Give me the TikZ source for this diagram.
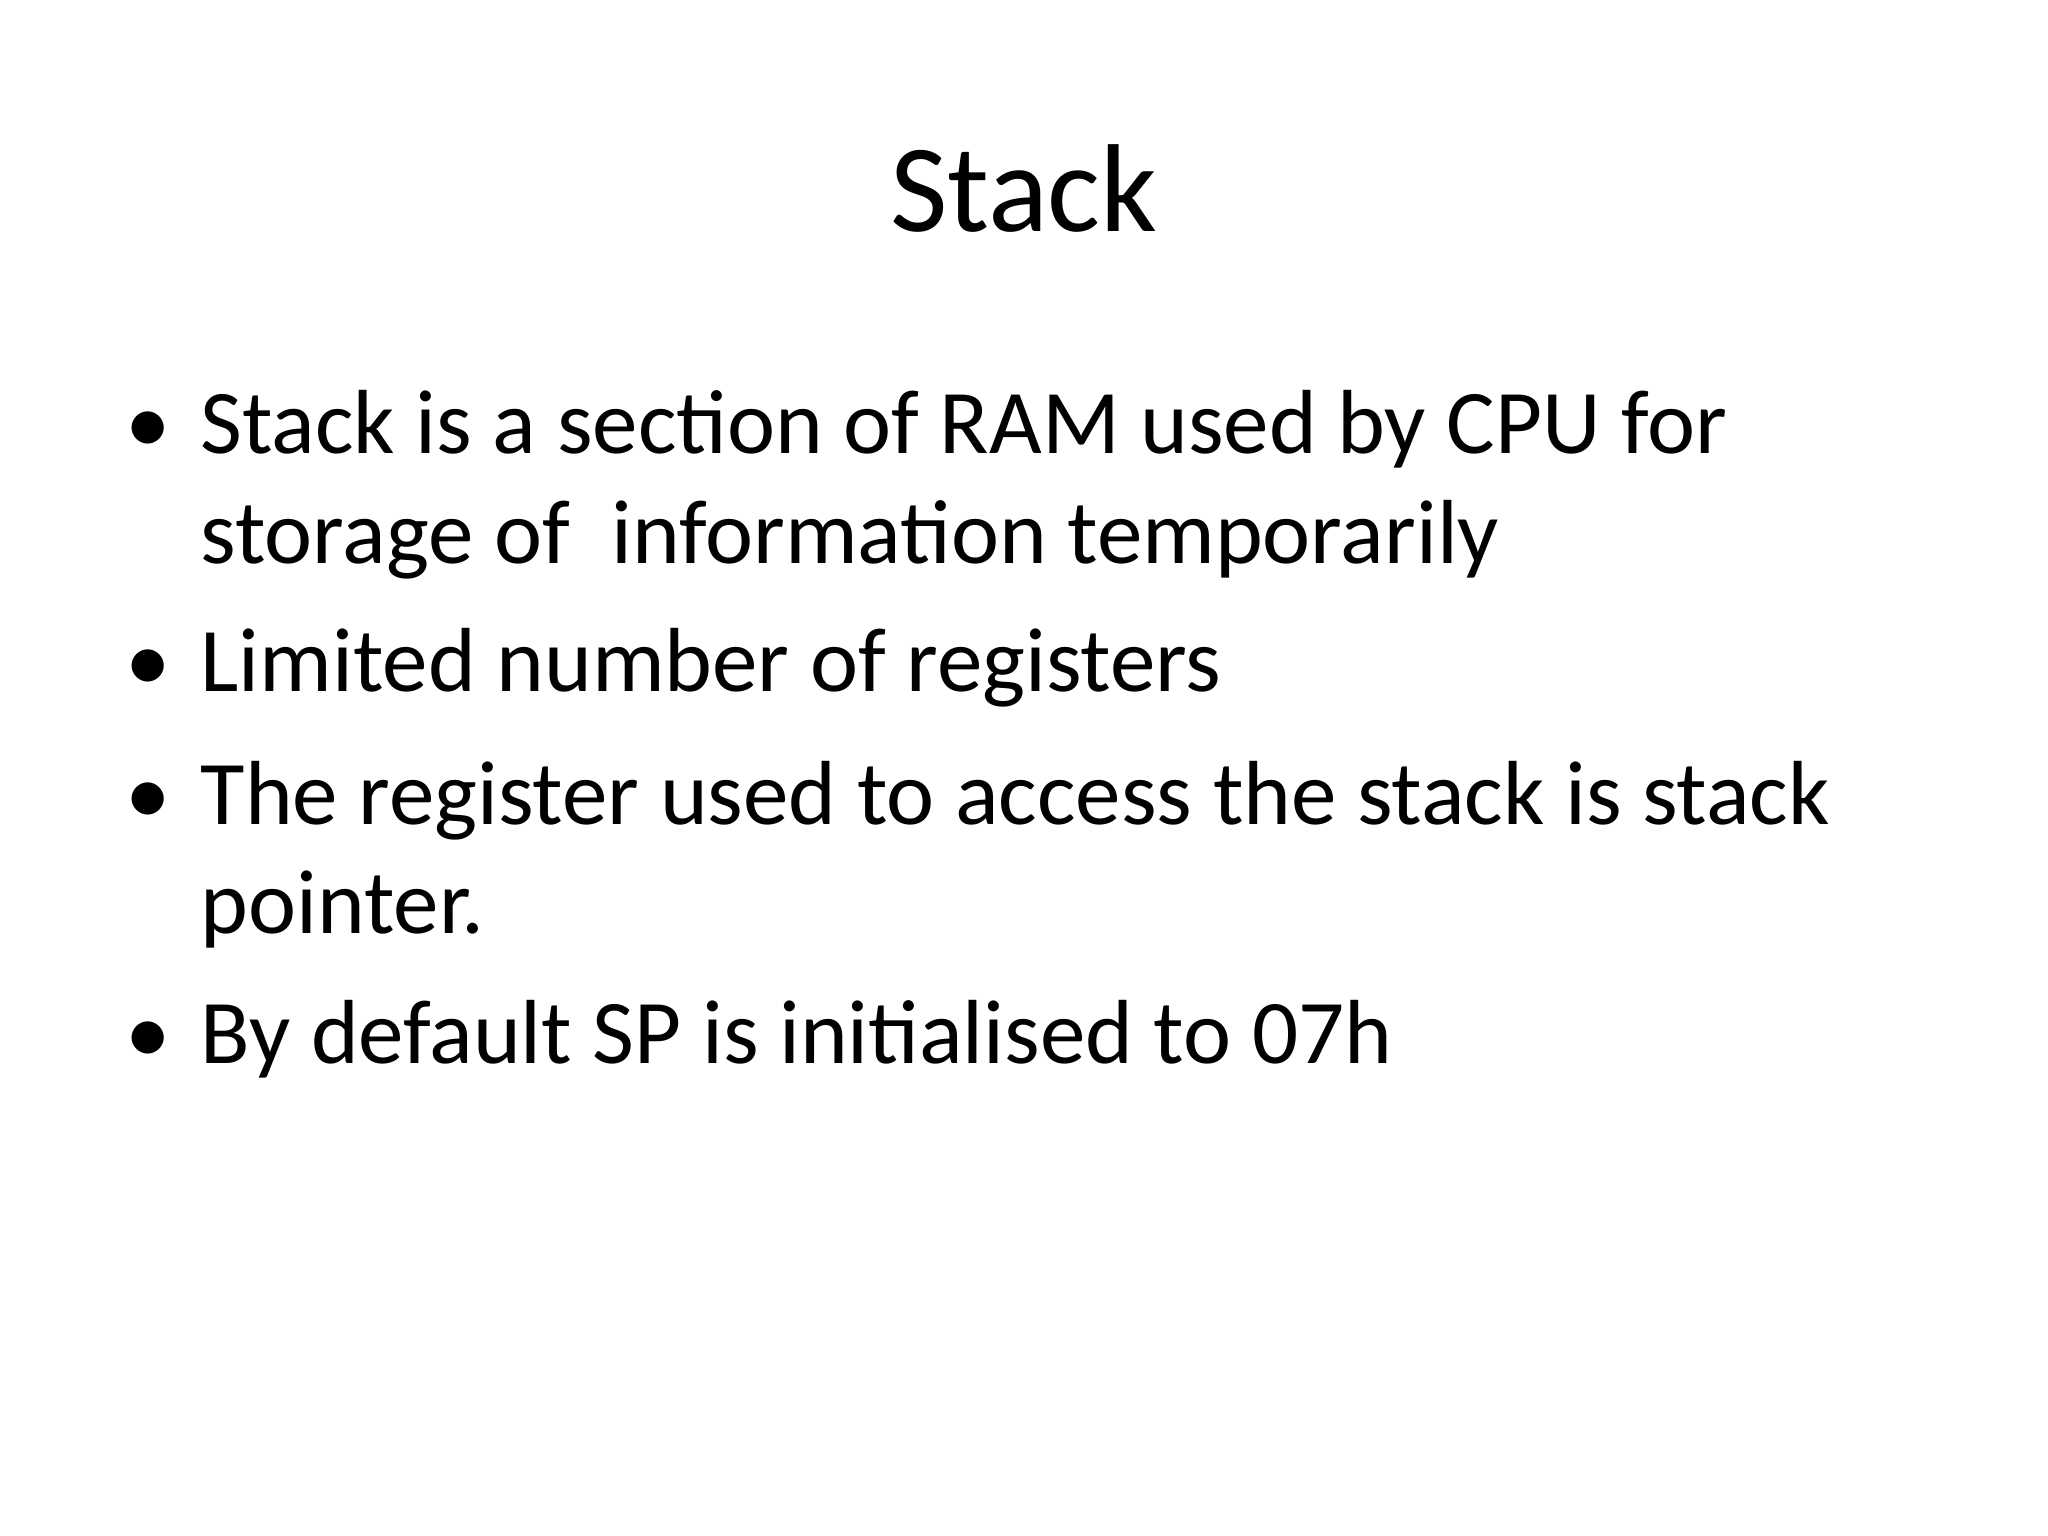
\documentclass[tikz,border=0pt]{standalone}
\usepackage{fontspec}
\setmainfont{Carlito}
\begin{document}
\begin{tikzpicture}[x=1cm,y=1cm,
  body/.style={anchor=base west,inner sep=0pt,font=\fontsize{25.9pt}{31pt}\selectfont},
  bul/.style={anchor=base west,inner sep=0pt,font=\fontsize{25.9pt}{31pt}\selectfont}]
\useasboundingbox (0,0) rectangle (20.48,15.36);
\fill[white] (0,0) rectangle (20.48,15.36);
\node[anchor=base,inner sep=0pt,font=\fontsize{35.6pt}{42pt}\selectfont] (title) at (10.24,15.36-2.32) {Stack};
\node[bul] (b1) at (1.25,15.36-4.54) {•};
\node[body] (t1) at (2.0,15.36-4.54) {Stack is a section of RAM used by CPU for};
\node[body] (t1b) at (2.0,15.36-5.64) {storage of \ information temporarily};
\node[bul] (b2) at (1.25,15.36-6.92) {•};
\node[body] (t2) at (2.0,15.36-6.92) {Limited number of registers};
\node[bul] (b3) at (1.25,15.36-8.25) {•};
\node[body] (t3) at (2.0,15.36-8.25) {The register used to access the stack is stack};
\node[body] (t3b) at (2.0,15.36-9.34) {pointer.};
\node[bul] (b4) at (1.25,15.36-10.64) {•};
\node[body] (t4) at (2.0,15.36-10.64) {By default SP is initialised to 07h};
\end{tikzpicture}
\end{document}
